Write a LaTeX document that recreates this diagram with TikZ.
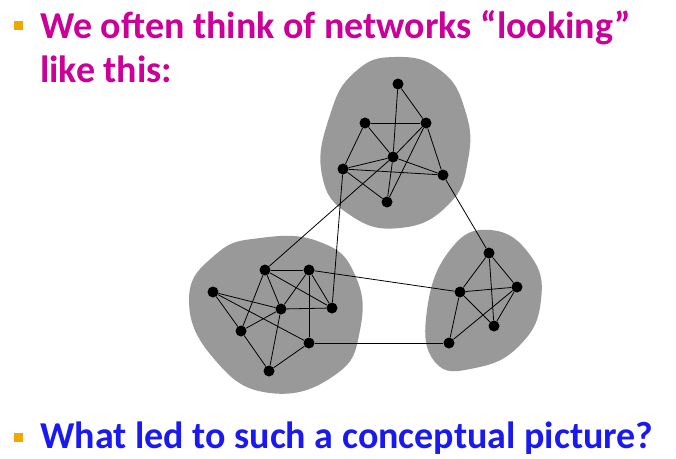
\documentclass[tikz,border=0pt]{standalone}
\usepackage{fontspec}
\setmainfont{Carlito}
\definecolor{mag}{HTML}{CC0099}
\definecolor{blu}{HTML}{1A1AF0}
\definecolor{bul}{HTML}{F0A800}
\definecolor{blob}{HTML}{999999}
\begin{document}
\begin{tikzpicture}[x=1pt,y=-1pt,
  v/.style={circle,fill=black,inner sep=0pt,minimum size=11pt},
  e/.style={line width=0.8pt},
  bl/.style={fill=blob,draw=none},
  bullet/.style={fill=bul,minimum size=9pt,inner sep=0pt},
  txt/.style={anchor=base west,inner sep=0pt,font=\fontsize{38}{44}\selectfont\bfseries}]
\useasboundingbox (0,0) rectangle (676,458);
\fill[bl] plot[smooth cycle,tension=0.8] coordinates {(395,57) (440,70) (465,110) (468,160) (448,205) (400,228) (350,215) (322,175) (330,115) (355,72)};
\fill[bl] plot[smooth cycle,tension=0.8] coordinates {(260,238) (320,242) (355,275) (360,330) (335,375) (270,393) (215,360) (189,300) (215,255)};
\fill[bl] plot[smooth cycle,tension=0.8] coordinates {(490,230) (530,255) (541,300) (520,345) (475,368) (435,362) (427,310) (450,250)};
\foreach \n/\p in {t1/{398,84},t2/{365,123},t3/{426,123},t4/{393,157},t5/{343,169},t6/{443,175},t7/{387,202},
 l1/{265,270},l2/{309,270},l3/{213,292},l4/{281,309},l5/{332,308},l6/{241,331},l7/{309,343},l8/{269,371},
 r1/{489,253},r2/{460,292},r3/{517,287},r4/{449,343},r5/{494,326}}
 \node[v] (\n) at (\p) {};
\foreach \a/\b in {t1/t4,t1/t3,t2/t3,t2/t5,t2/t4,t3/t4,t3/t7,t3/t6,t5/t4,t5/t6,t5/t7,t4/t6,t4/t7,t6/r1,
 l1/l2,l1/l4,l1/l5,l1/l6,l2/l4,l2/l5,l2/l7,l3/l4,l3/l7,l3/l6,l4/l5,l4/l6,l4/l8,l6/l8,l7/l8,l2/r2,l7/r4,l5/t5,l1/t4,
 r1/r2,r1/r3,r1/r5,r2/r3,r2/r5,r2/r4,r3/r5,r3/r4}
 \draw[e] (\a) -- (\b);
\node[bullet] (b1) at (18,25) {};
\node[bullet] (b2) at (18,437) {};
\node[txt,text=mag] (l1t) at (40,38) {We often think of networks “looking”};
\node[txt,text=mag] (l2t) at (40,82) {like this:};
\node[txt,text=blu] (l3t) at (40,448) {What led to such a conceptual picture?};
\end{tikzpicture}
\end{document}
